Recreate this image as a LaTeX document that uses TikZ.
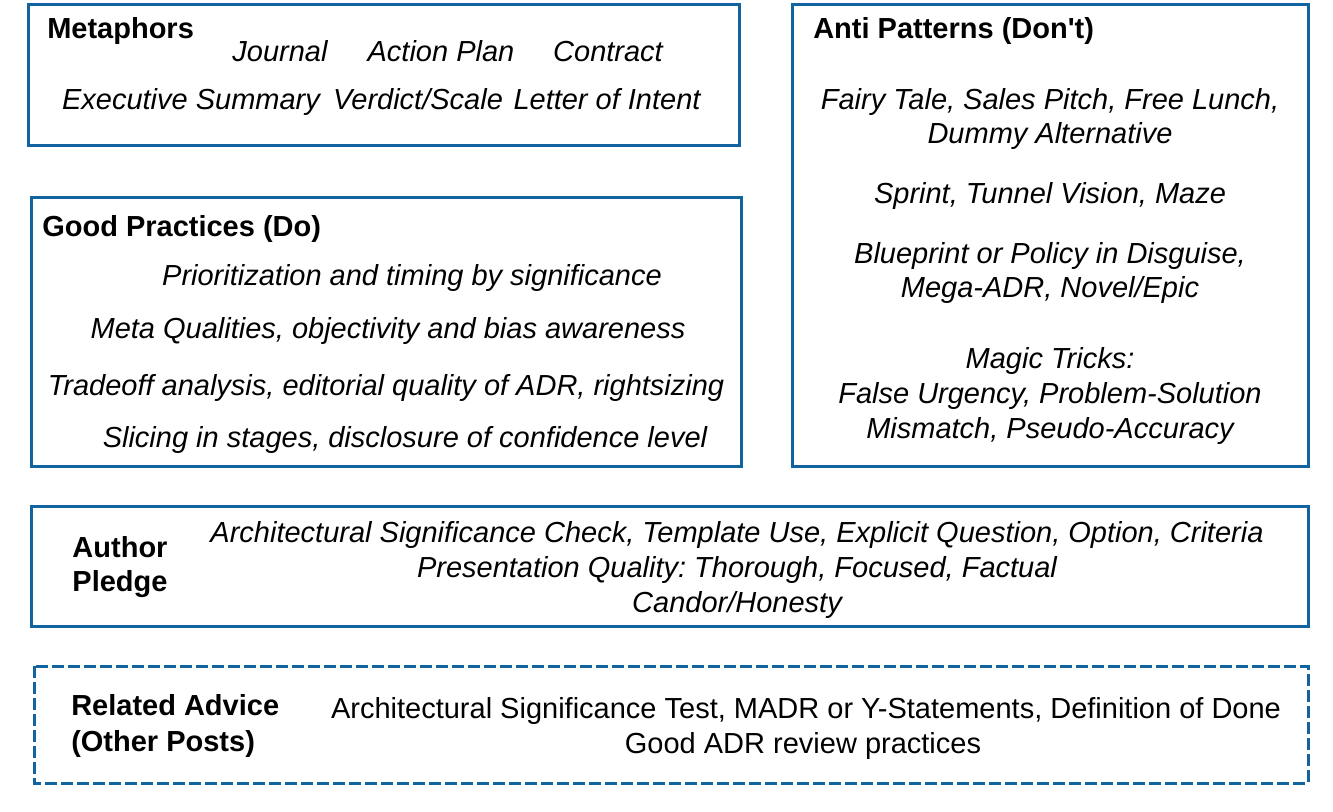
\documentclass[tikz,border=0pt]{standalone}
\usepackage{fontspec}
\setmainfont{Liberation Sans}
\frenchspacing
\definecolor{panelblue}{RGB}{18,100,160}
\tikzset{
  panel/.style={draw=panelblue, line width=2.25pt},
  heading/.style={font=\fontsize{21.75}{26}\selectfont\bfseries, anchor=base west, inner sep=0pt},
  headline/.style={font=\fontsize{21.75}{26}\selectfont\bfseries, anchor=base, inner sep=0pt},
  entry/.style={font=\fontsize{21.75}{26}\selectfont\itshape, anchor=base, inner sep=0pt},
  plain/.style={font=\fontsize{21.75}{26}\selectfont, anchor=base, inner sep=0pt},
}
\begin{document}
\begin{tikzpicture}[x=0.75pt, y=-0.75pt]
    \useasboundingbox (0,0) rectangle (1333,811);

    % Panels
    \draw[panel] (28,4) rectangle (739,145);
    \draw[panel] (792,4) rectangle (1308,466);
    \draw[panel] (31,197) rectangle (741,466);
    \draw[panel] (31,506) rectangle (1308,626);
    \draw[panel, dash pattern=on 9pt off 3pt] (34,666) rectangle (1308,783);

    % Metaphors
    \node[heading] (metaphors) at (47,38) {Metaphors};
    \node[entry] (journal) at (280,61) {Journal};
    \node[entry] (actionplan) at (441,61) {Action Plan};
    \node[entry] (contract) at (608,61) {Contract};
    \node[entry] (summary) at (191,109) {Executive Summary};
    \node[entry] (verdict) at (418,109) {Verdict/Scale};
    \node[entry] (intent) at (607,109) {Letter of Intent};

    % Anti patterns
    \node[heading] (antipatterns) at (813,38) {Anti Patterns (Don\textquotesingle t)};
    \foreach \yy/\txt [count=\i] in {
        109/{Fairy Tale, Sales Pitch, Free Lunch,},
        143/{Dummy Alternative},
        203/{Sprint, Tunnel Vision, Maze},
        263/{Blueprint or Policy in Disguise,},
        297/{Mega-ADR, Novel/Epic},
        368/{Magic Tricks:},
        403/{False Urgency, Problem-Solution},
        438/{Mismatch, Pseudo-Accuracy}} {
        \node[entry] (anti\i) at (1050,\yy) {\txt};
      }

    % Good practices
    \node[heading] (goodpractices) at (42,236) {Good Practices (Do)};
    \foreach \xx/\yy/\txt [count=\i] in {
        412/285/{Prioritization and timing by significance},
        388/338/{Meta Qualities, objectivity and bias awareness},
        386/395/{Tradeoff analysis, editorial quality of ADR, rightsizing},
        405/447/{Slicing in stages, disclosure of confidence level}} {
        \node[entry] (good\i) at (\xx,\yy) {\txt};
      }

    % Author pledge
    \node[headline] (author) at (120,557) {Author};
    \node[headline] (pledge) at (120,591) {Pledge};
    \foreach \yy/\txt [count=\i] in {
        542/{Architectural Significance Check, Template Use, Explicit Question, Option, Criteria},
        577/{Presentation Quality: Thorough, Focused, Factual},
        612/{Candor/Honesty}} {
        \node[entry] (pledge\i) at (737,\yy) {\txt};
      }

    % Related advice
    \node[heading] (related) at (71,715) {Related Advice};
    \node[heading] (otherposts) at (71,751) {(Other Posts)};
    \node[plain] (advice1) at (806,718) {Architectural Significance Test, MADR or Y-Statements, Definition of Done};
    \node[plain] (advice2) at (803,753) {Good ADR review practices};
  \end{tikzpicture}
\end{document}
